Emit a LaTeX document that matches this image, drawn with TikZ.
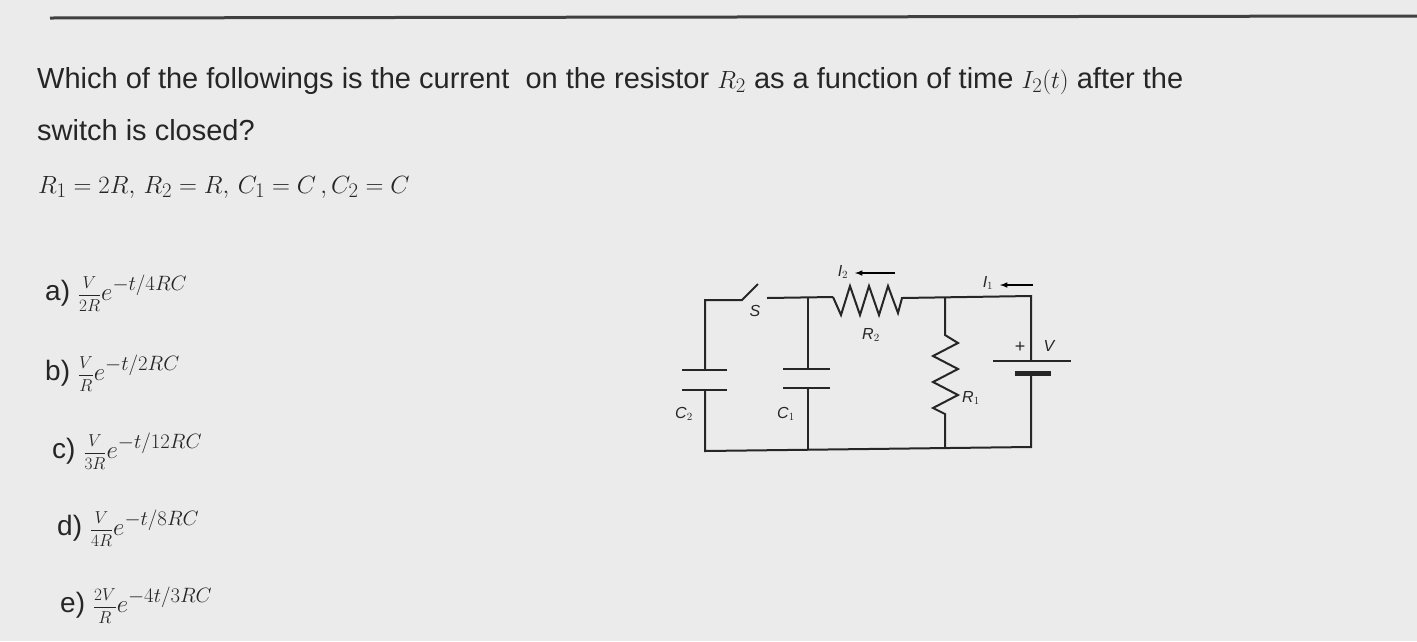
\documentclass[tikz,border=0pt]{standalone}
\usepackage{fontspec}
\usepackage{amsmath}
\setmainfont{Liberation Sans}
\newcommand{\myfr}[2]{{\fontsize{19}{21}\selectfont$\dfrac{#1}{#2}$}}
\begin{document}
\begin{tikzpicture}[x=1pt,y=-1pt,
  wire/.style={line width=2pt,color=black!85},
  qtext/.style={anchor=base west,inner sep=0pt,font=\fontsize{29}{32}\selectfont,text=black!85},
  ans/.style={anchor=base west,inner sep=0pt,font=\fontsize{28}{30}\selectfont,text=black!85},
  lbl/.style={inner sep=0pt,font=\fontsize{16}{18}\selectfont\itshape,text=black!85}]
\fill[black!8] (0,0) rectangle (1417,641);
\useasboundingbox (0,0) rectangle (1417,641);
\draw[line width=3pt,black!75] (50,18) -- (1417,16);
\node[qtext] (q1) at (37,88) {Which of the followings is the current\ \ on the resistor $R_2$ as a function of time $I_2(t)$ after the};
\node[qtext] (q2) at (37,140) {switch is closed?};
\node[qtext,font=\fontsize{28}{30}\selectfont] (q3) at (38,193) {$R_1=2R,\,R_2=R,\,C_1=C\,,C_2=C$};
\node[ans] (a) at (45,300) {a) \myfr{V}{2R}$e^{-t/4RC}$};
\node[ans] (b) at (45,380) {b) \myfr{V}{R}$e^{-t/2RC}$};
\node[ans] (c) at (52,458) {c) \myfr{V}{3R}$e^{-t/12RC}$};
\node[ans] (d) at (57,535) {d) \myfr{V}{4R}$e^{-t/8RC}$};
\node[ans] (e) at (60,612) {e) \myfr{2V}{R}$e^{-4t/3RC}$};
% circuit
\draw[wire] (705,370) -- (705,300) -- (742,300) -- (758,284);
\draw[wire] (767,298) -- (833,297);
\draw[wire] (682,370) -- (727,370);
\draw[wire] (682,390) -- (727,390);
\draw[wire] (705,390) -- (705,451) -- (1031,447) -- (1031,376);
\draw[wire] (808,298) -- (808,369);
\draw[wire] (783,369) -- (830,369);
\draw[wire] (783,388) -- (830,388);
\draw[wire] (808,388) -- (808,450);
\draw[wire] (833,297) -- (841,315) -- (850,286) -- (860,315) -- (869,286) -- (879,315) -- (888,286) -- (898,313) -- (902,298) -- (1031,296) -- (1031,361);
\draw[wire] (945,297) -- (945,335) -- (958,343) -- (933,356) -- (958,369) -- (933,382) -- (958,395) -- (933,408) -- (945,414) -- (945,448);
\draw[wire] (993,361) -- (1071,361);
\draw[line width=5pt,black!85] (1015,373) -- (1051,373);
\node[lbl,font=\fontsize{18}{20}\selectfont] (plus) at (1020,347) {+};
\node[lbl] (V) at (1049,346) {V};
\node[lbl] (R1) at (971,398) {R$_1$};
\node[lbl] (R2) at (871,335) {R$_2$};
\node[lbl] (C1) at (786,414) {C$_1$};
\node[lbl] (C2) at (684,414) {C$_2$};
\node[lbl] (S) at (755,311) {S};
\node[lbl] (I2) at (843,272) {I$_2$};
\node[lbl] (I1) at (988,283) {I$_1$};
\coordinate (i2s) at (895,273); \coordinate (i2e) at (855,273);
\coordinate (i1s) at (1033,285); \coordinate (i1e) at (1000,285);
\draw[line width=1.5pt,-latex] (i2s) -- (i2e);
\draw[line width=1.5pt,-latex] (i1s) -- (i1e);
\end{tikzpicture}
\end{document}
